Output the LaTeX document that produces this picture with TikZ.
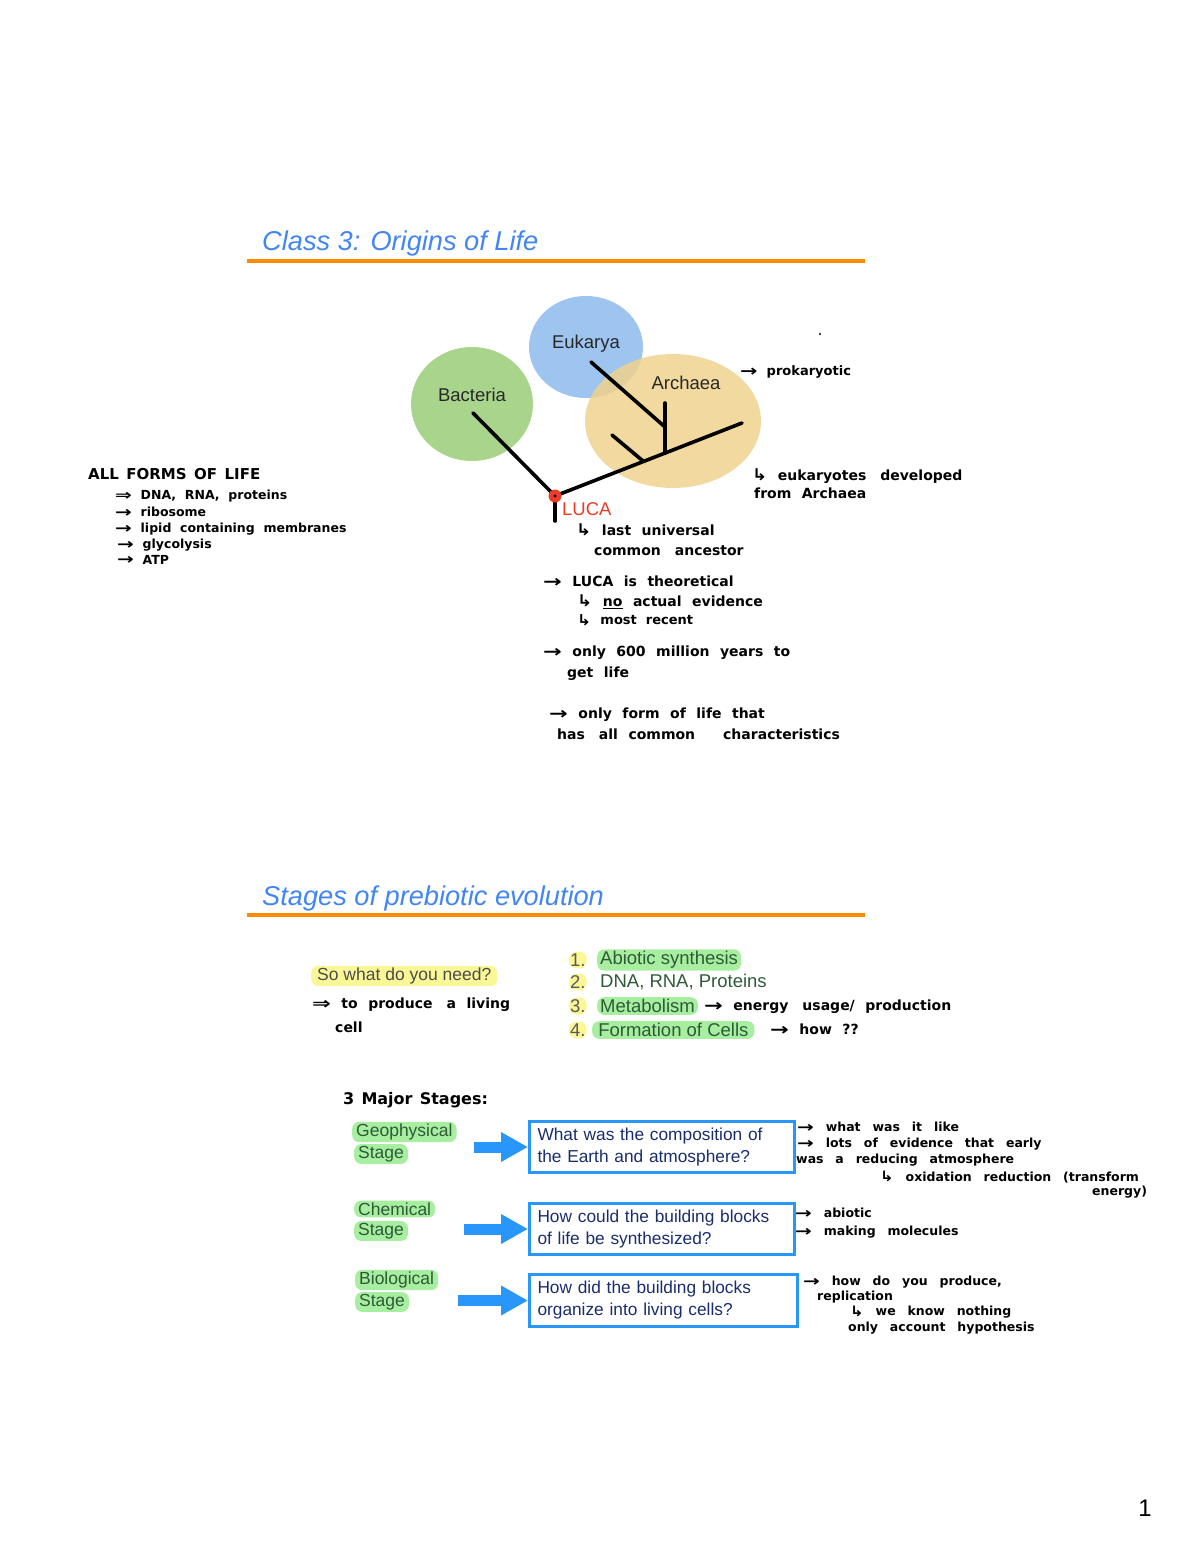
\documentclass[tikz,border=0pt]{standalone}
\usepackage{fontspec}
\usepackage{graphicx}
\setmainfont{Liberation Sans}
\newfontfamily\hand{DejaVu Sans}
\usetikzlibrary{arrows.meta}
\newcommand\hwsp[1]{\spaceskip=#1em\relax}
\newcommand\har{\raisebox{-0.1ex}{\scalebox{1.6}[1.2]{→}}}
\newcommand\hAr{\raisebox{-0.1ex}{\scalebox{1.6}[1.2]{⇒}}}
\newcommand\hLr{\raisebox{-0.05ex}{\scalebox{1.3}[1.15]{↳}}}
\definecolor{titleblue}{RGB}{66,133,244}
\definecolor{rulecol}{RGB}{255,140,0}
\definecolor{bacg}{RGB}{168,212,140}
\definecolor{euk}{RGB}{158,196,240}
\definecolor{arch}{RGB}{238,210,142}
\definecolor{lucared}{RGB}{235,60,40}
\definecolor{hlgreen}{RGB}{168,238,160}
\definecolor{hlyellow}{RGB}{250,248,150}
\definecolor{boxblue}{RGB}{40,150,250}
\definecolor{navy}{RGB}{25,45,110}
\definecolor{greentext}{RGB}{45,90,55}
\definecolor{labgray}{RGB}{40,40,40}
\begin{document}
\begin{tikzpicture}[x=1pt,y=-1pt,
  note/.style={font={\hand\bfseries\fontsize{13}{14}\selectfont\hwsp{0.7}}, anchor=west, inner sep=0pt},
  lnote/.style={note, font={\hand\bfseries\fontsize{12.5}{13}\selectfont\hwsp{0.7}}},
  mnote/.style={note, font={\hand\bfseries\fontsize{14}{15}\selectfont\hwsp{0.75}}},
  snote/.style={note, font={\hand\bfseries\fontsize{12.5}{13}\selectfont\hwsp{0.95}}},
  bignote/.style={note, font={\hand\bfseries\fontsize{16}{18}\selectfont\hwsp{0.45}}},
  ttl/.style={font=\itshape\fontsize{27.2}{30}\selectfont, text=titleblue, anchor=base west, inner sep=0pt},
  hrule/.style={draw=rulecol, line width=4pt},
  domlab/.style={font=\fontsize{18.5}{20}\selectfont, text=labgray, inner sep=0pt},
  branch/.style={line width=3.6pt, line cap=round},
  hlg/.style={fill=hlgreen, rounded corners=7pt, inner xsep=4pt, inner ysep=2pt, anchor=west, text=greentext, font=\fontsize{17.5}{18}\selectfont},
  hly/.style={fill=hlyellow, rounded corners=7pt, inner xsep=6pt, inner ysep=2pt, anchor=west, text=black!70, font=\fontsize{17.5}{18}\selectfont},
  num/.style={fill=hlyellow, rounded corners=7pt, inner xsep=1pt, inner ysep=2pt, anchor=west, text=black!65, font=\fontsize{18.5}{19}\selectfont},
  item/.style={fill=hlgreen, rounded corners=7pt, inner xsep=3pt, inner ysep=2pt, anchor=west, text=greentext, font=\fontsize{18.5}{19}\selectfont},
  qbox/.style={draw=boxblue, line width=3pt, text=navy, anchor=north west, align=left, inner xsep=7pt, font=\fontsize{17.3}{22}\selectfont},
  barrow/.style={draw=boxblue, line width=11pt, -{Triangle[length=27pt,width=28pt]}}
]
\useasboundingbox (0,0) rectangle (1200,1553);

% ---------- Title 1 ----------
\node[ttl] (t1) at (262,250) {Class 3: Origins of Life};
\coordinate (r1a) at (247,261);
\coordinate (r1b) at (865,261);
\draw[hrule] (r1a) -- (r1b);

% ---------- Tree of life ----------
\fill[bacg] (472,404) ellipse [x radius=61, y radius=57];
\fill[euk] (586,347) ellipse [x radius=57, y radius=51];
\fill[arch, fill opacity=0.85] (673,421) ellipse [x radius=88, y radius=67];
\node[domlab] (lbact) at (472,395) {Bacteria};
\node[domlab] (leuk) at (586,344) {Eukarya};
\node[domlab] (larch) at (686,383) {Archaea};

\coordinate (luca) at (555,496);
\coordinate (bend) at (473,413);
\coordinate (mend) at (742,423);
\coordinate (eks) at (591,362);
\coordinate (ekj) at (665,427);
\coordinate (avt) at (665,403);
\coordinate (avb) at (665,453);
\coordinate (sbs) at (612,435);
\coordinate (sbe) at (643,461);
\coordinate (stem) at (555,521);
\draw[branch] (bend) -- (luca) -- (mend);
\draw[branch] (eks) -- (ekj);
\draw[branch] (avt) -- (avb);
\draw[branch] (sbs) -- (sbe);
\draw[branch] (luca) -- (stem);
\fill[lucared] (luca) circle (6.5);
\fill[black] (luca) circle (1.6);
\node[font=\fontsize{18.5}{20}\selectfont, text=lucared, anchor=west, inner sep=0pt] (llu) at (562,509) {LUCA};
\fill[black] (820,334) circle (1.2);

% ---------- Handwritten notes (top) ----------
\node[note, font={\hand\bfseries\fontsize{15}{16}\selectfont\hwsp{0.5}}] (h1) at (88,474) {ALL FORMS OF LIFE};
\node[lnote] (h2) at (115,496) {\hAr\ DNA, RNA, proteins};
\node[lnote] (h3) at (115,512) {\har\ ribosome};
\node[lnote] (h4) at (115,529) {\har\ lipid containing membranes};
\node[lnote] (h5) at (117,545) {\har\ glycolysis};
\node[lnote] (h6) at (117,560) {\har\ ATP};

\node[note] (p1) at (740,372) {\har\ prokaryotic};
\node[mnote] (p2) at (752,476) {\hLr\ eukaryotes\quad developed};
\node[mnote] (p3) at (754,493) {from Archaea};

\node[mnote] (q1) at (576,530) {\hLr\ last universal};
\node[mnote] (q2) at (594,551) {common\quad ancestor};
\node[mnote] (q3) at (543,582) {\har\ LUCA is theoretical};
\node[mnote] (q4) at (577,602) {\hLr\ \underline{no} actual evidence};
\node[note] (q5) at (577,620) {\hLr\ most recent};
\node[mnote] (q6) at (543,653) {\har\ only 600 million years to};
\node[mnote] (q7) at (567,674) {get life};
\node[mnote] (q8) at (549,715) {\har\ only form of life that};
\node[mnote] (q9) at (557,734) {has\quad all common\qquad characteristics};

% ---------- Title 2 ----------
\node[ttl] (t2) at (262,905) {Stages of prebiotic evolution};
\coordinate (r2a) at (247,915);
\coordinate (r2b) at (865,915);
\draw[hrule] (r2a) -- (r2b);

\node[hly] (need) at (311,976) {So what do you need?};
\node[mnote] (s1) at (312,1005) {\hAr\ to produce\quad a living};
\node[mnote] (s2) at (335,1027) {cell};

\node[num] (n1) at (569,960) {1.};
\node[item] (i1) at (597,960) {Abiotic synthesis};
\node[num] (n2) at (569,982) {2.};
\node[item, fill=none] (i2) at (597,982) {DNA, RNA, Proteins};
\node[num] (n3) at (569,1006) {3.};
\node[item] (i3) at (597,1006) {Metabolism};
\node[mnote] (e3) at (704,1007) {\har\ energy\quad usage/ production};
\node[num] (n4) at (569,1030) {4.};
\node[item] (i4) at (592,1030) {\,Formation of Cells\,};
\node[mnote] (e4) at (770,1030) {\har\ how ??};

% ---------- 3 Major stages ----------
\node[bignote] (major) at (343,1100) {3 Major Stages:};

\node[hlg] (g1) at (352,1132) {Geophysical};
\node[hlg] (g2) at (354,1154) {Stage};
\node[hlg] (c1) at (354,1209) {Chemical};
\node[hlg] (c2) at (354,1231) {Stage};
\node[hlg] (b1) at (355,1280) {Biological};
\node[hlg] (b2) at (355,1302) {Stage};

\node[qbox, minimum width=265pt, minimum height=51pt, text width=249pt] (box1) at (528,1120) {What was the composition of\\the Earth and atmosphere?};
\node[qbox, minimum width=265pt, minimum height=51pt, text width=249pt] (box2) at (528,1202) {How could the building blocks\\of life be synthesized?};
\node[qbox, minimum width=268pt, minimum height=52pt, text width=252pt] (box3) at (528,1273) {How did the building blocks\\organize into living cells?};

\coordinate (a1) at (474,1142);
\coordinate (a2) at (464,1220);
\coordinate (a3) at (458,1291);
\draw[barrow] (box1.west -| a1) -- (box1.west);
\draw[barrow] (box2.west -| a2) -- (box2.west);
\draw[barrow] (box3.west -| a3) -- (box3.west);

% ---------- Handwritten notes (stages) ----------
\node[snote] (w1) at (797,1127) {\har\ what was it like};
\node[snote] (w2) at (797,1144) {\har\ lots of evidence that early};
\node[snote] (w3) at (796,1160) {was a reducing atmosphere};
\node[snote] (w4) at (880,1177) {\hLr\ oxidation reduction (transform};
\node[snote] (w5) at (1092,1192) {energy)};
\node[snote] (x1) at (795,1213) {\har\ abiotic};
\node[snote] (x2) at (795,1232) {\har\ making molecules};
\node[snote] (y1) at (803,1282) {\har\ how do you produce,};
\node[snote] (y2) at (817,1297) {replication};
\node[snote] (y3) at (850,1312) {\hLr\ we know nothing};
\node[snote] (y4) at (848,1328) {only account hypothesis};

% ---------- Page number ----------
\node[font=\fontsize{24}{26}\selectfont, inner sep=0pt] (pg) at (1145,1508) {1};
\end{tikzpicture}
\end{document}
